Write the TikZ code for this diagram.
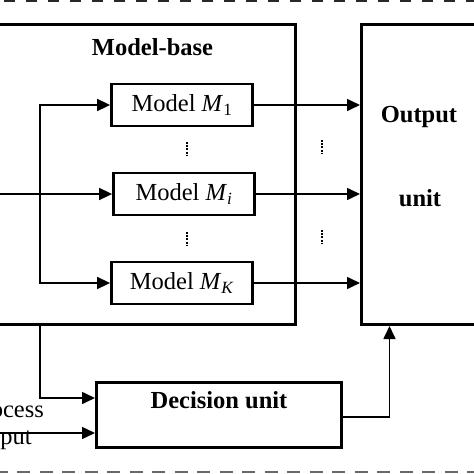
\documentclass[tikz,border=0pt]{standalone}
\usepackage{fontspec}
\setmainfont{Liberation Serif}
\usepackage{tikz}
\usetikzlibrary{arrows.meta}
\definecolor{dashgray}{RGB}{105,105,105}
\definecolor{dashdark}{RGB}{40,40,40}
\tikzset{
  frame/.style={draw, line width=3pt, inner sep=0pt},
  modelbox/.style={draw, line width=2.8pt, minimum width=141pt, minimum height=42pt, inner sep=0pt},
  boldtxt/.style={font=\fontsize{24.5}{27}\selectfont\bfseries},
  link/.style={line width=1.6pt, -{Triangle[length=13pt,width=12pt]}},
  dotline/.style={line width=2.8pt, dash pattern=on 2pt off 1.2pt},
  topdash/.style={dashdark, line width=2.5pt, dash pattern=on 11pt off 11pt, dash phase=18pt},
  botdash/.style={dashgray, line width=2.2pt, dash pattern=on 13pt off 9.5pt, dash phase=5.5pt}
}

\begin{document}
\begin{tikzpicture}[x=1pt, y=-1pt, font=\fontsize{24.5}{27}\selectfont]
  \useasboundingbox (0,0) rectangle (474,474);
  \clip (0,0) rectangle (474,474);

  \draw[topdash] (0,1.2) -- (474,1.2);
  \draw[botdash] (0,472) -- (474,472);

  \node[frame, minimum width=345.5pt, minimum height=300pt] (base) at (122.75,174.5) {};
  \node[frame, minimum width=158.5pt, minimum height=300pt] (output) at (440.75,174.5) {};
  \node[boldtxt, anchor=base] (basetitle) at (152.5,55) {Model-base};
  \node[boldtxt, anchor=base] (outtxt) at (419,122) {Output};
  \node[boldtxt, anchor=base] (unittxt) at (420,206) {unit};

  \node[modelbox] (m1) at (182,105) {Model \textit{M}\textsubscript{1}};
  \node[modelbox] (mi) at (184,194) {Model \textit{M}\textsubscript{\textit{i}}};
  \node[modelbox] (mk) at (182,283) {Model \textit{M}\textsubscript{\textit{K}}};

  \node[frame, boldtxt, minimum width=245pt, text height=25.5pt, text depth=39.5pt] (decision) at (219,415) {Decision unit};
  \node[align=center, anchor=base] (procin) at (6.5,444) {Process\\input};

  \coordinate (split) at (40,194);
  \coordinate (in) at (0,194);
  \coordinate (pin) at (0,433);

  \draw[link] (in) -- (mi);
  \draw[link] (split) |- (m1);
  \draw[link] (split) |- (mk);
  \draw[link] (m1.east) -- (m1.east -| output.west);
  \draw[link] (mi.east) -- (mi.east -| output.west);
  \draw[link] (mk.east) -- (mk.east -| output.west);
  \draw[link] (base.south -| split) |- ([yshift=17pt]decision.west);
  \draw[link] (pin) -- ([yshift=-18pt]decision.west);
  \draw[link] ([yshift=-2pt]decision.east) -| ([xshift=29.5pt]output.south west);

  \foreach \dx/\dy in {187/142, 187/232, 322/140, 322/230}
    \draw[dotline] (\dx,\dy) -- ++(0,14);
\end{tikzpicture}
\end{document}
